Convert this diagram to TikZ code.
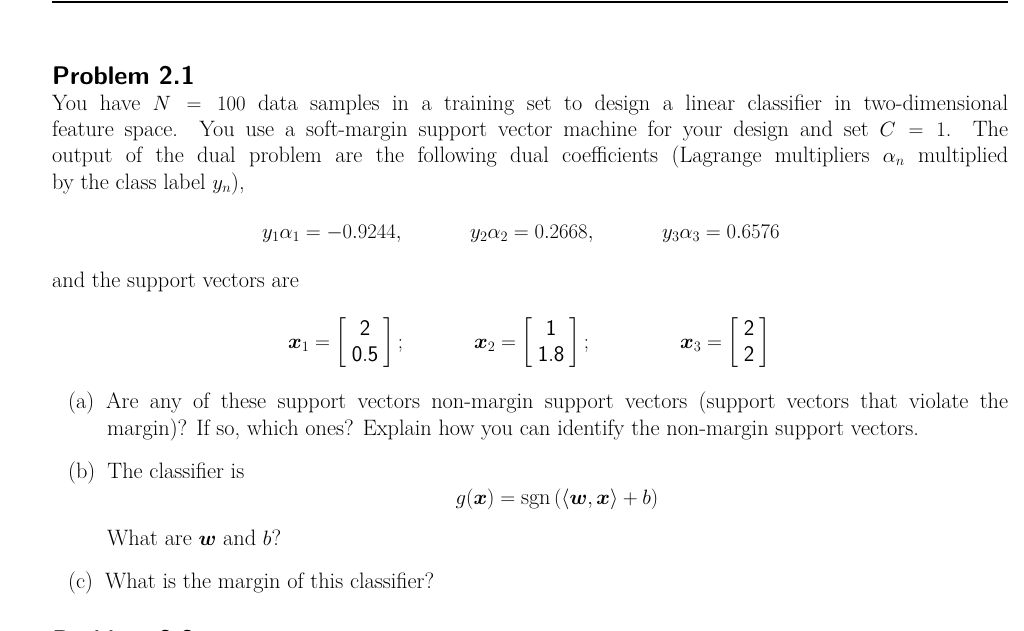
\documentclass[tikz,border=0pt]{standalone}
\usepackage{amsmath,bm}
\usepackage{fontspec}
\begin{document}
\begin{tikzpicture}[x=1pt,y=-1pt,
  txt/.style={anchor=base west,inner sep=0pt,font=\fontsize{22.3}{26}\selectfont},
  eq/.style={anchor=base,inner sep=0pt,font=\fontsize{22.3}{26}\selectfont}]
\useasboundingbox (0,0) rectangle (1024,630);
\clip (0,0) rectangle (1024,630);
\draw[line width=1.6pt] (52,2) -- (1008,2);
\node[txt,font=\fontsize{25.5}{28}\selectfont\sffamily\bfseries] (h1) at (52,84) {Problem 2.1};
\node[txt] (l1) at (52,110) {\makebox[956pt][s]{You have $N=100$ data samples in a training set to design a linear classifier in two-dimensional}};
\node[txt] (l2) at (52,136) {\makebox[956pt][s]{feature space. You use a soft-margin support vector machine for your design and set $C=1$. The}};
\node[txt] (l3) at (52,162) {\makebox[956pt][s]{output of the dual problem are the following dual coefficients (Lagrange multipliers $\alpha_n$ multiplied}};
\node[txt] (l4) at (52,189) {by the class label $y_n$),};
\node[txt] (e1) at (262,238) {$y_1\alpha_1=-0.9244,$};
\node[txt] (e2) at (470,238) {$y_2\alpha_2=0.2668,$};
\node[txt] (e3) at (662,238) {$y_3\alpha_3=0.6576$};
\node[txt] (l5) at (52,287) {and the support vectors are};
\node[txt] (m1) at (288,348) {$\bm{x}_1=\left[\begin{array}{c}\mathsf{2}\\ \mathsf{0.5}\end{array}\right];$};
\node[txt] (m2) at (474,348) {$\bm{x}_2=\left[\begin{array}{c}\mathsf{1}\\ \mathsf{1.8}\end{array}\right];$};
\node[txt] (m3) at (680,348) {$\bm{x}_3=\left[\begin{array}{c}\mathsf{2}\\ \mathsf{2}\end{array}\right]$};
\node[txt] (a1) at (68,408) {\makebox[940pt][s]{(a)\hspace{12pt}Are any of these support vectors non-margin support vectors (support vectors that violate the}};
\node[txt] (a2) at (107,435) {margin)? If so, which ones? Explain how you can identify the non-margin support vectors.};
\node[txt] (b1) at (68,478) {(b)\hspace{12pt}The classifier is};
\node[eq] (b2) at (557,504) {$g(\bm{x})=\operatorname{sgn}\left(\langle\bm{w},\bm{x}\rangle+b\right)$};
\node[txt] (b3) at (107,545) {What are $\bm{w}$ and $b$?};
\node[txt] (c1) at (68,588) {(c)\hspace{12pt}What is the margin of this classifier?};
\node[txt,font=\fontsize{25.5}{28}\selectfont\sffamily\bfseries] (h2) at (52,648) {Problem 2.2};
\end{tikzpicture}
\end{document}
